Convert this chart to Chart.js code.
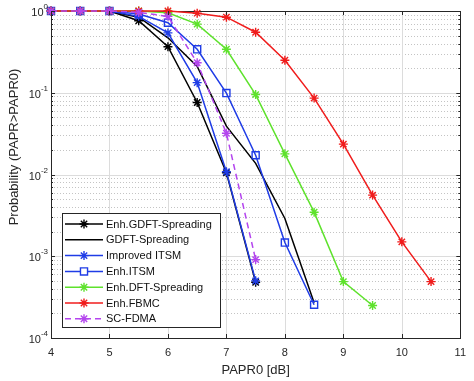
<!DOCTYPE html>
<html><head><meta charset="utf-8">
<script src="https://cdn.jsdelivr.net/npm/chart.js@4"></script>
<style>html,body{margin:0;padding:0;background:#fff;overflow:hidden}</style>
</head><body>
<canvas id="c" width="474" height="381"></canvas>
<script>
// ---- data ----
const papr = [4, 4.5, 5, 5.5, 6, 6.5, 7, 7.5, 8, 8.5, 9, 9.5, 10, 10.5];
const xTicks = [4, 5, 6, 7, 8, 9, 10, 11];
const yDecades = [1, 1e-1, 1e-2, 1e-3, 1e-4];
const yTickExp = ['0', '-1', '-2', '-3', '-4'];
const seriesNames = ['Enh.GDFT-Spreading', 'GDFT-Spreading', 'Improved ITSM', 'Enh.ITSM', 'Enh.DFT-Spreading', 'Enh.FBMC', 'SC-FDMA'];
const enhGdft   = [1, 1, 1, 0.76, 0.366, 0.076, 0.0105, 0.00048];
const gdft      = [1, 1, 0.99, 0.84, 0.47, 0.21, 0.039, 0.0137, 0.0029, 0.00027];
const impItsm   = [1, 1, 1, 0.86, 0.54, 0.133, 0.0108, 0.0005];
const enhItsm   = [1, 1, 1, 0.92, 0.72, 0.34, 0.099, 0.0172, 0.00147, 0.000255];
const enhDft    = [1, 1, 1, 1, 0.95, 0.69, 0.34, 0.095, 0.0179, 0.00346, 0.00049, 0.00025];
const enhFbmc   = [1, 1, 1, 1, 1, 0.94, 0.84, 0.55, 0.25, 0.086, 0.0235, 0.0056, 0.0015, 0.00049];
const scFdma    = [1, 1, 1, 0.96, 0.86, 0.233, 0.032, 0.00091];

const seriesValues = [enhGdft, gdft, impItsm, enhItsm, enhDft, enhFbmc, scFdma];
const colors = ['#000000', '#000000', '#1f3ce6', '#1f3ce6', '#5ee22c', '#f01c1c', '#b445ee'];
const markers = ['star', false, 'star', 'rect', 'star', 'star', 'star'];
const dashes = [[], [], [], [], [], [], [6, 4]];

const FONT = '"Liberation Sans", Arial, Helvetica, sans-serif';

function pts(vals) { return vals.map((v, i) => ({ x: papr[i], y: v })); }

const datasets = seriesNames.map((name, i) => ({
  label: name,
  data: pts(seriesValues[i]),
  borderColor: colors[i],
  backgroundColor: markers[i] === 'rect' ? 'rgba(0,0,0,0)' : colors[i],
  borderWidth: 1.5,
  borderDash: dashes[i],
  pointStyle: markers[i] || 'circle',
  pointRadius: markers[i] ? (markers[i] === 'rect' ? 5 : 4.5) : 0,
  pointBorderWidth: 1.4,
  pointBorderColor: colors[i],
  pointBackgroundColor: markers[i] === 'rect' ? 'rgba(0,0,0,0)' : colors[i],
  fill: false,
  tension: 0,
  clip: false,
  order: seriesNames.length - i
}));

const decorPlugin = {
  id: 'decor',
  beforeDatasetsDraw(chart) {
    const { ctx, chartArea: a, scales } = chart;
    const xs = scales.x, ys = scales.y;
    ctx.save();
    ctx.strokeStyle = '#c4c4c4';
    ctx.lineWidth = 1;
    ctx.setLineDash([1, 2]);
    for (let d = 1e-4; d < 1; d *= 10) {
      for (let m = 2; m <= 9; m++) {
        const y = Math.round(ys.getPixelForValue(d * m)) + 0.5;
        ctx.beginPath(); ctx.moveTo(a.left, y); ctx.lineTo(a.right, y); ctx.stroke();
      }
    }
    ctx.setLineDash([]);
    ctx.strokeStyle = '#dcdcdc';
    yDecades.forEach(v => {
      const y = Math.round(ys.getPixelForValue(v)) + 0.5;
      ctx.beginPath(); ctx.moveTo(a.left, y); ctx.lineTo(a.right, y); ctx.stroke();
    });
    xTicks.forEach(v => {
      const x = Math.round(xs.getPixelForValue(v)) + 0.5;
      ctx.beginPath(); ctx.moveTo(x, a.top); ctx.lineTo(x, a.bottom); ctx.stroke();
    });
    // box (under the data, as in MATLAB the markers overlap it)
    ctx.strokeStyle = '#262626';
    ctx.strokeRect(Math.round(a.left) + 0.5, Math.round(a.top) + 0.5, Math.round(a.right - a.left), Math.round(a.bottom - a.top));
    ctx.restore();
  },
  afterDatasetsDraw(chart) {
    const { ctx, chartArea: a, scales } = chart;
    const xs = scales.x, ys = scales.y;
    ctx.save();
    ctx.strokeStyle = '#262626';
    ctx.lineWidth = 1;
    // ticks
    ctx.beginPath();
    xTicks.forEach(v => {
      const x = Math.round(xs.getPixelForValue(v)) + 0.5;
      ctx.moveTo(x, a.bottom); ctx.lineTo(x, a.bottom - 4);
      ctx.moveTo(x, a.top); ctx.lineTo(x, a.top + 4);
    });
    yDecades.forEach(v => {
      const y = Math.round(ys.getPixelForValue(v)) + 0.5;
      ctx.moveTo(a.left, y); ctx.lineTo(a.left + 4, y);
      ctx.moveTo(a.right, y); ctx.lineTo(a.right - 4, y);
    });
    for (let d = 1e-4; d < 1; d *= 10) {
      for (let m = 2; m <= 9; m++) {
        const y = Math.round(ys.getPixelForValue(d * m)) + 0.5;
        ctx.moveTo(a.left, y); ctx.lineTo(a.left + 2, y);
        ctx.moveTo(a.right, y); ctx.lineTo(a.right - 2, y);
      }
    }
    ctx.stroke();

    // y tick labels 10^k
    ctx.fillStyle = '#262626';
    ctx.textBaseline = 'middle';
    yDecades.forEach((v, i) => {
      const y = ys.getPixelForValue(v) + 2;
      ctx.font = '8px ' + FONT;
      const ew = ctx.measureText(yTickExp[i]).width;
      ctx.textAlign = 'right';
      ctx.fillText(yTickExp[i], 48, y - 6);
      ctx.font = '11px ' + FONT;
      ctx.fillText('10', 48 - ew, y);
    });

    // axis titles
    ctx.font = '13px ' + FONT;
    ctx.textAlign = 'center';
    ctx.textBaseline = 'middle';
    ctx.fillText('PAPR0 [dB]', (a.left + a.right) / 2, 370);
    ctx.save();
    ctx.translate(14, 147);
    ctx.rotate(-Math.PI / 2);
    ctx.fillText('Probability (PAPR>PAPR0)', 0, 0);
    ctx.restore();

    // legend
    const lx = 62, ly = 213, lw = 158, lh = 114;
    ctx.fillStyle = '#ffffff';
    ctx.fillRect(lx, ly, lw, lh);
    ctx.strokeStyle = '#262626';
    ctx.lineWidth = 1;
    ctx.strokeRect(lx + 0.5, ly + 0.5, lw, lh);
    ctx.font = '11px ' + FONT;
    ctx.textAlign = 'left';
    ctx.textBaseline = 'middle';
    chart.data.datasets.forEach((ds, i) => {
      const y = ly + 11 + i * 15.8;
      ctx.strokeStyle = ds.borderColor;
      ctx.lineWidth = 1.5;
      ctx.setLineDash(ds.borderDash || []);
      ctx.beginPath(); ctx.moveTo(65, y); ctx.lineTo(103, y); ctx.stroke();
      ctx.setLineDash([]);
      if (markers[i]) {
        ctx.fillStyle = markers[i] === 'rect' ? '#ffffff' : ds.pointBackgroundColor;
        ctx.strokeStyle = ds.pointBorderColor;
        ctx.lineWidth = ds.pointBorderWidth;
        Chart.helpers.drawPoint(ctx, { pointStyle: ds.pointStyle, radius: ds.pointRadius, rotation: 0, borderWidth: ds.pointBorderWidth }, 84, y);
      }
      ctx.fillStyle = '#111111';
      ctx.fillText(ds.label, 106, y + 0.5);
    });
    ctx.restore();
  }
};

new Chart(document.getElementById('c'), {
  type: 'line',
  data: { datasets },
  options: {
    responsive: false,
    animation: false,
    layout: { padding: { left: 0, top: 11, right: 9, bottom: 0 } },
    plugins: { legend: { display: false }, tooltip: { enabled: false } },
    scales: {
      x: {
        type: 'linear', min: 4, max: 11,
        grid: { display: false, drawTicks: false },
        border: { display: false },
        ticks: { stepSize: 1, padding: 8, color: '#262626', font: { size: 11, family: FONT } },
        afterFit: s => { s.height = 43; }
      },
      y: {
        type: 'logarithmic', min: 1e-4, max: 1,
        grid: { display: false },
        border: { display: false },
        ticks: { display: false },
        afterFit: s => { s.width = 51; }
      }
    }
  },
  plugins: [decorPlugin]
});
</script>
</body></html>
